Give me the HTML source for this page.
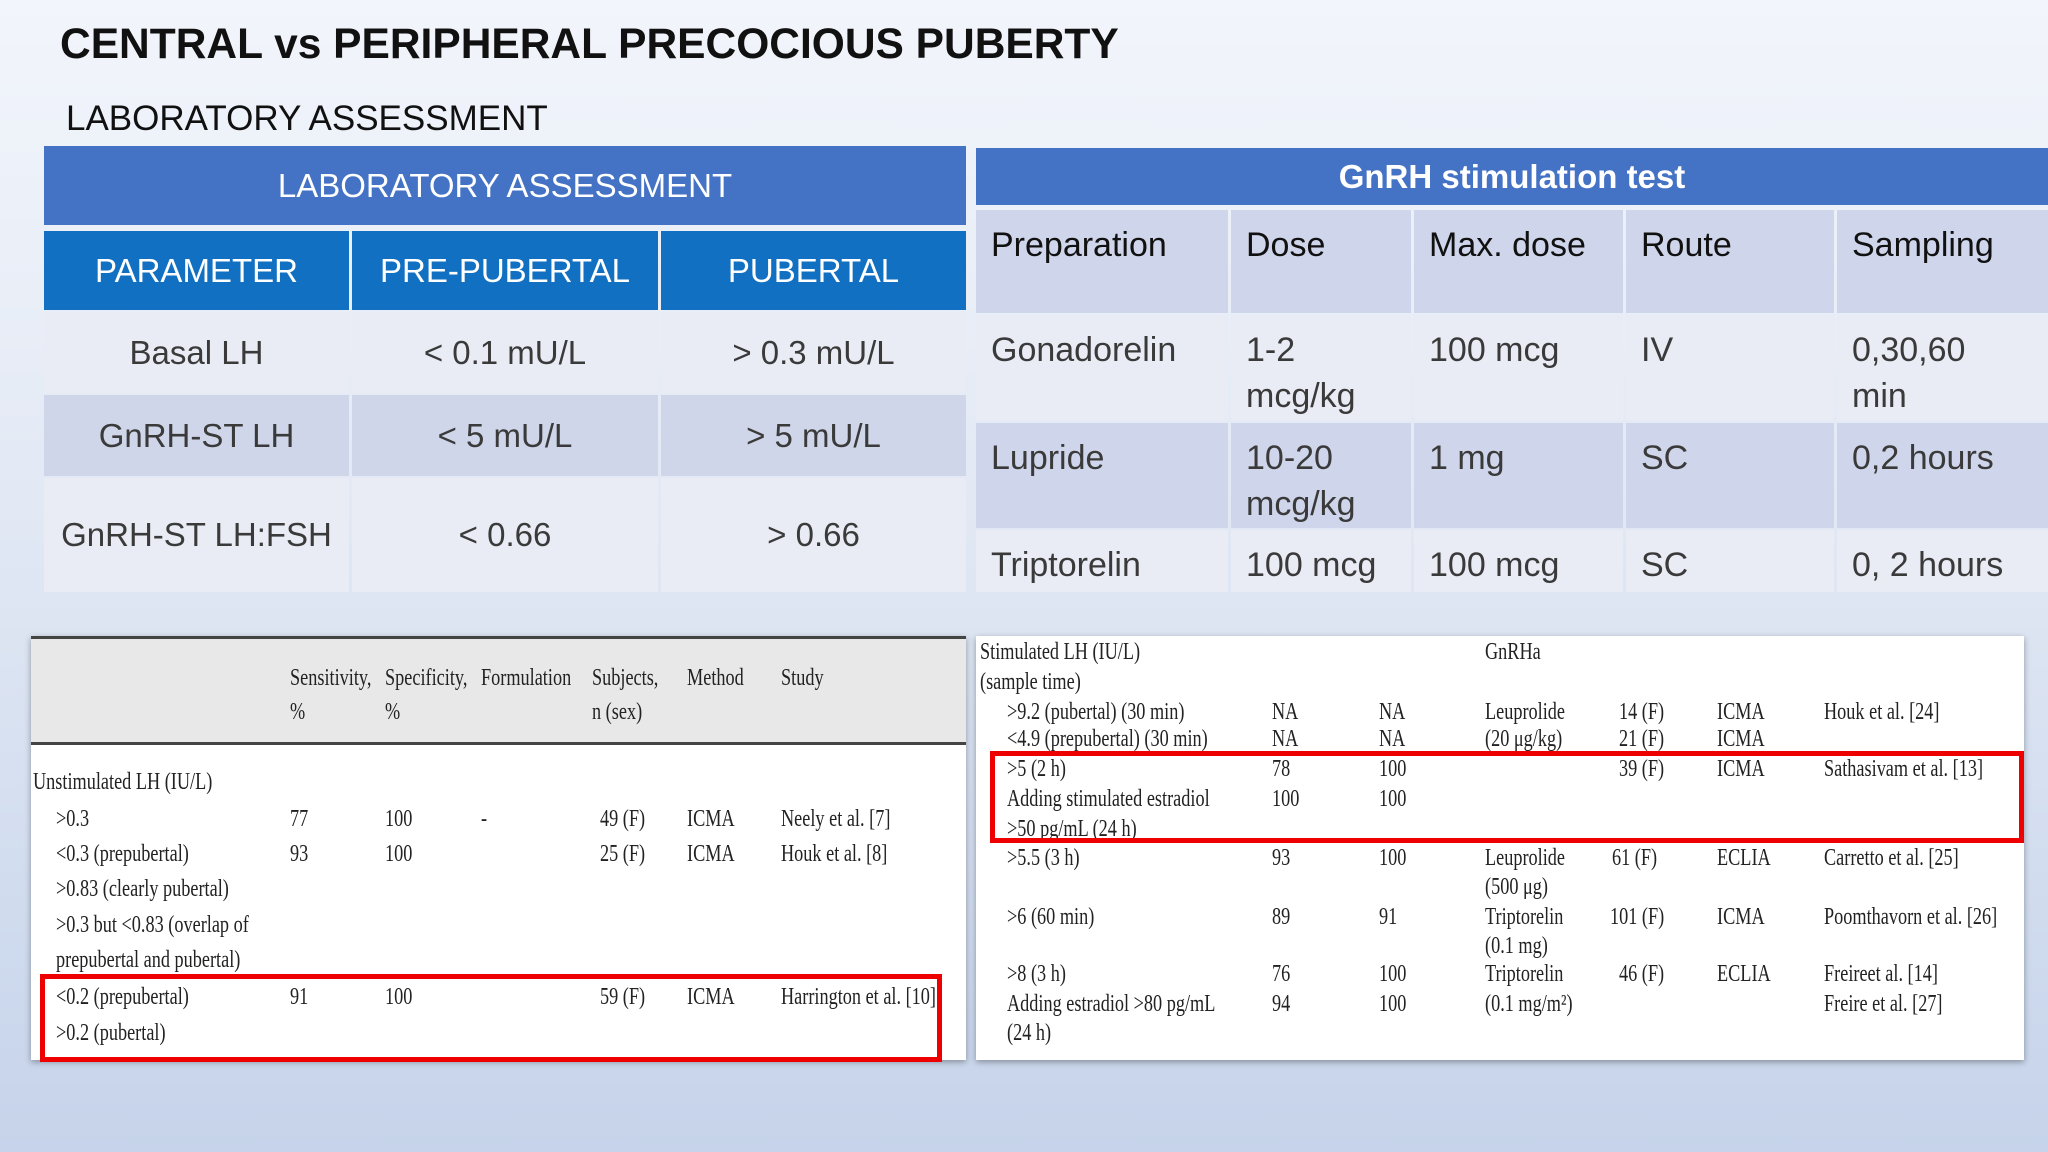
<!DOCTYPE html>
<html><head><meta charset="utf-8">
<style>
*{margin:0;padding:0;box-sizing:border-box}
body{width:2048px;height:1152px;overflow:hidden;position:relative;background:linear-gradient(#f2f5fb 0%,#e4eaf5 40%,#d2ddef 75%,#c6d3ea 100%);font-family:"Liberation Sans",sans-serif}
.a{position:absolute}
.c{position:absolute;display:flex;align-items:center;justify-content:center;text-align:center}
.tl{font-size:33px;color:#3a3a3a}
.rc{position:absolute;padding:12px 0 0 15px;font-size:34px;line-height:46px;color:#3a3a3a}
.rh{color:#111}
.img{position:absolute;background:#fff;box-shadow:0 2px 6px rgba(0,0,0,.35)}
.s{position:absolute;font-family:"Liberation Serif",serif;font-size:24px;color:#222;white-space:nowrap;transform:scaleX(.76);transform-origin:left center;line-height:26px}
.red{position:absolute;border:5px solid #ee0000}
</style></head><body>
<div class="a" style="left:60px;top:21px;font-size:42.5px;font-weight:bold;color:#111">CENTRAL vs PERIPHERAL PRECOCIOUS PUBERTY</div>
<div class="a" style="left:66px;top:99px;font-size:35px;color:#111">LABORATORY ASSESSMENT</div>

<div class="a" style="left:44px;top:146px;width:922px;height:446px">
 <div class="c" style="left:0;top:0;width:922px;height:79px;background:#4472c4;color:#fff;font-size:33px">LABORATORY ASSESSMENT</div>
 <div class="c" style="left:0;top:85px;width:305px;height:79px;background:#1170c2;color:#fff;font-size:33px">PARAMETER</div>
 <div class="c" style="left:308px;top:85px;width:306px;height:79px;background:#1170c2;color:#fff;font-size:33px">PRE-PUBERTAL</div>
 <div class="c" style="left:617px;top:85px;width:305px;height:79px;background:#1170c2;color:#fff;font-size:33px">PUBERTAL</div>
 <div class="c tl" style="left:0;top:166px;width:305px;height:81px;background:#e9ecf5">Basal LH</div>
 <div class="c tl" style="left:308px;top:166px;width:306px;height:81px;background:#e9ecf5">&lt; 0.1 mU/L</div>
 <div class="c tl" style="left:617px;top:166px;width:305px;height:81px;background:#e9ecf5">&gt; 0.3 mU/L</div>
 <div class="c tl" style="left:0;top:249px;width:305px;height:81px;background:#cfd6e9">GnRH-ST LH</div>
 <div class="c tl" style="left:308px;top:249px;width:306px;height:81px;background:#cfd6e9">&lt; 5 mU/L</div>
 <div class="c tl" style="left:617px;top:249px;width:305px;height:81px;background:#cfd6e9">&gt; 5 mU/L</div>
 <div class="c tl" style="left:0;top:332px;width:305px;height:114px;background:#e9ecf5">GnRH-ST LH:FSH</div>
 <div class="c tl" style="left:308px;top:332px;width:306px;height:114px;background:#e9ecf5">&lt; 0.66</div>
 <div class="c tl" style="left:617px;top:332px;width:305px;height:114px;background:#e9ecf5">&gt; 0.66</div>
</div>

<div class="a" style="left:976px;top:148px;width:1072px;height:444px">
 <div class="c" style="left:0;top:0;width:1072px;height:57px;background:#4472c4;color:#fff;font-size:33px;font-weight:bold">GnRH stimulation test</div>
 <div class="rc rh" style="left:0;top:62px;width:252px;height:103px;background:#cfd5ea">Preparation</div>
 <div class="rc rh" style="left:255px;top:62px;width:180px;height:103px;background:#cfd5ea">Dose</div>
 <div class="rc rh" style="left:438px;top:62px;width:209px;height:103px;background:#cfd5ea">Max. dose</div>
 <div class="rc rh" style="left:650px;top:62px;width:208px;height:103px;background:#cfd5ea">Route</div>
 <div class="rc rh" style="left:861px;top:62px;width:211px;height:103px;background:#cfd5ea">Sampling</div>

 <div class="rc" style="left:0;top:167px;width:252px;height:106px;background:#e9ebf5">Gonadorelin</div>
 <div class="rc" style="left:255px;top:167px;width:180px;height:106px;background:#e9ebf5">1-2<br>mcg/kg</div>
 <div class="rc" style="left:438px;top:167px;width:209px;height:106px;background:#e9ebf5">100 mcg</div>
 <div class="rc" style="left:650px;top:167px;width:208px;height:106px;background:#e9ebf5">IV</div>
 <div class="rc" style="left:861px;top:167px;width:211px;height:106px;background:#e9ebf5">0,30,60<br>min</div>

 <div class="rc" style="left:0;top:275px;width:252px;height:105px;background:#cfd5ea">Lupride</div>
 <div class="rc" style="left:255px;top:275px;width:180px;height:105px;background:#cfd5ea">10-20<br>mcg/kg</div>
 <div class="rc" style="left:438px;top:275px;width:209px;height:105px;background:#cfd5ea">1 mg</div>
 <div class="rc" style="left:650px;top:275px;width:208px;height:105px;background:#cfd5ea">SC</div>
 <div class="rc" style="left:861px;top:275px;width:211px;height:105px;background:#cfd5ea">0,2 hours</div>

 <div class="rc" style="left:0;top:382px;width:252px;height:62px;background:#e9ebf5">Triptorelin</div>
 <div class="rc" style="left:255px;top:382px;width:180px;height:62px;background:#e9ebf5">100 mcg</div>
 <div class="rc" style="left:438px;top:382px;width:209px;height:62px;background:#e9ebf5">100 mcg</div>
 <div class="rc" style="left:650px;top:382px;width:208px;height:62px;background:#e9ebf5">SC</div>
 <div class="rc" style="left:861px;top:382px;width:211px;height:62px;background:#e9ebf5">0, 2 hours</div>
</div>

<div class="img" style="left:31px;top:636px;width:935px;height:424px">
 <div class="a" style="left:0;top:0;width:935px;height:109px;background:#e8e8e8;border-top:3px solid #444;border-bottom:3px solid #444"></div>
</div>
<div class="img" style="left:976px;top:636px;width:1048px;height:424px"></div>
<div id="txt"></div>
<div class="red" style="left:40px;top:974px;width:902px;height:88px"></div>
<div class="red" style="left:990px;top:751px;width:1034px;height:92px"></div>

<script>
const L=[
[290,678,"Sensitivity,"],[385,678,"Specificity,"],[481,678,"Formulation"],[592,678,"Subjects,"],[687,678,"Method"],[781,678,"Study"],
[290,712,"%"],[385,712,"%"],[592,712,"n (sex)"],
[33,782,"Unstimulated LH (IU/L)"],
[56,819,">0.3"],[290,819,"77"],[385,819,"100"],[481,819,"-"],[600,819,"49 (F)"],[687,819,"ICMA"],[781,819,"Neely et al. [7]"],
[56,854,"<0.3 (prepubertal)"],[290,854,"93"],[385,854,"100"],[600,854,"25 (F)"],[687,854,"ICMA"],[781,854,"Houk et al. [8]"],
[56,889,">0.83 (clearly pubertal)"],
[56,925,">0.3 but <0.83 (overlap of"],
[56,960,"prepubertal and pubertal)"],
[56,997,"<0.2 (prepubertal)"],[290,997,"91"],[385,997,"100"],[600,997,"59 (F)"],[687,997,"ICMA"],[781,997,"Harrington et al. [10]"],
[56,1033,">0.2 (pubertal)"],
[980,652,"Stimulated LH (IU/L)"],[1485,652,"GnRHa"],
[980,682,"(sample time)"],
[1007,712,">9.2 (pubertal) (30 min)"],[1272,712,"NA"],[1379,712,"NA"],[1485,712,"Leuprolide"],[1619,712,"14 (F)"],[1717,712,"ICMA"],[1824,712,"Houk et al. [24]"],
[1007,739,"<4.9 (prepubertal) (30 min)"],[1272,739,"NA"],[1379,739,"NA"],[1485,739,"(20 μg/kg)"],[1619,739,"21 (F)"],[1717,739,"ICMA"],
[1007,769,">5 (2 h)"],[1272,769,"78"],[1379,769,"100"],[1619,769,"39 (F)"],[1717,769,"ICMA"],[1824,769,"Sathasivam et al. [13]"],
[1007,799,"Adding stimulated estradiol"],[1272,799,"100"],[1379,799,"100"],
[1007,829,">50 pg/mL (24 h)"],
[1007,858,">5.5 (3 h)"],[1272,858,"93"],[1379,858,"100"],[1485,858,"Leuprolide"],[1612,858,"61 (F)"],[1717,858,"ECLIA"],[1824,858,"Carretto et al. [25]"],
[1485,887,"(500 μg)"],
[1007,917,">6 (60 min)"],[1272,917,"89"],[1379,917,"91"],[1485,917,"Triptorelin"],[1610,917,"101 (F)"],[1717,917,"ICMA"],[1824,917,"Poomthavorn et al. [26]"],
[1485,946,"(0.1 mg)"],
[1007,974,">8 (3 h)"],[1272,974,"76"],[1379,974,"100"],[1485,974,"Triptorelin"],[1619,974,"46 (F)"],[1717,974,"ECLIA"],[1824,974,"Freireet al. [14]"],
[1007,1004,"Adding estradiol >80 pg/mL"],[1272,1004,"94"],[1379,1004,"100"],[1485,1004,"(0.1 mg/m²)"],[1824,1004,"Freire et al. [27]"],
[1007,1033,"(24 h)"]
];
const box=document.getElementById('txt');
L.forEach(function(t){
 const d=document.createElement('div');
 d.className='s';
 d.style.left=t[0]+'px';d.style.top=(t[1]-13)+'px';
 d.textContent=t[2];
 
 
 box.appendChild(d);
});
</script>
</body></html>
